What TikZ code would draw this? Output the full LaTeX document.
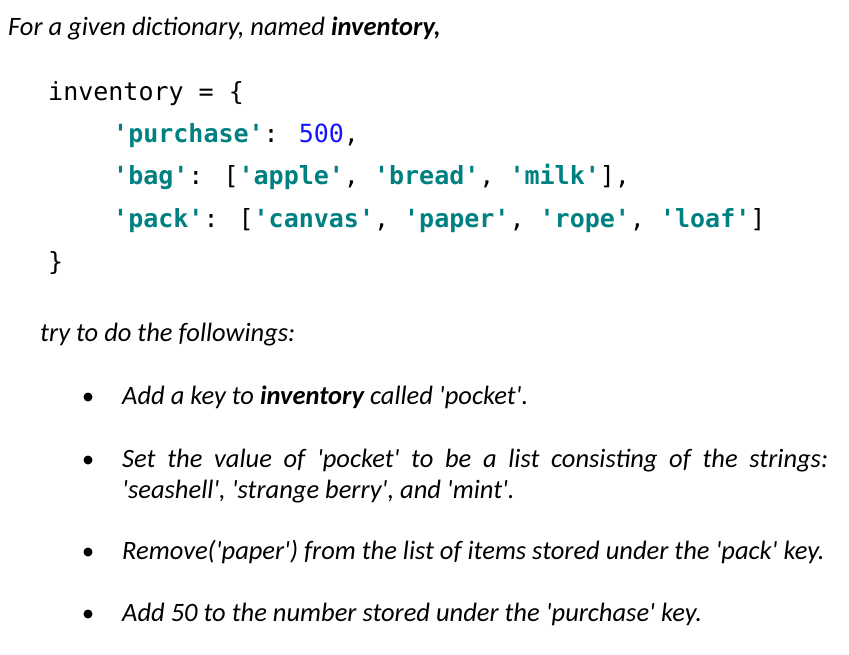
\documentclass[tikz,border=0pt]{standalone}
\usepackage{fontspec}
\setmainfont{Carlito}
\newfontfamily\codefont{DejaVu Sans Mono}
\newcommand{\q}{\textquotesingle}
\begin{document}
\begin{tikzpicture}[x=1pt,y=-1pt,
  txt/.style={anchor=base west,inner sep=0pt,font=\fontsize{26.5}{32}\selectfont\itshape},
  code/.style={anchor=base west,inner sep=0pt,font=\fontsize{25}{27}\codefont},
  bul/.style={circle,fill=black,inner sep=0pt,minimum size=9pt}]
\useasboundingbox (0,0) rectangle (849,655);
\definecolor{str}{RGB}{0,128,128}
\definecolor{num}{RGB}{20,20,255}
\node[txt] (t0) at (8,36) {For a given dictionary, named \textbf{inventory,}};
\node[code] (c0) at (48,101) {inventory = \{};
\node[code] (c1) at (113,143) {\textcolor{str}{\bfseries 'purchase'}: \textcolor{num}{500},};
\node[code] (c2) at (113,185) {\textcolor{str}{\bfseries 'bag'}: [\textcolor{str}{\bfseries 'apple'}, \textcolor{str}{\bfseries 'bread'}, \textcolor{str}{\bfseries 'milk'}],};
\node[code] (c3) at (113,228) {\textcolor{str}{\bfseries 'pack'}: [\textcolor{str}{\bfseries 'canvas'}, \textcolor{str}{\bfseries 'paper'}, \textcolor{str}{\bfseries 'rope'}, \textcolor{str}{\bfseries 'loaf'}]};
\node[code] (c4) at (48,270) {\}};
\node[txt] (t1) at (40,341) {try to do the followings:};
\node[bul] (b1) at (88,397) {};
\node[txt] (t2) at (122,404) {Add a key to \textbf{inventory} called \q pocket\q .};
\node[bul] (b2) at (88,460) {};
\node[txt] (t3) at (122,467) {\makebox[706pt][s]{Set the value of \q pocket\q{} to be a list consisting of the strings:}};
\node[txt] (t3b) at (122,498) {\q seashell\q , \q strange berry\q , and \q mint\q .};
\node[bul] (b3) at (88,552) {};
\node[txt] (t4) at (122,559) {Remove(\q paper\q ) from the list of items stored under the \q pack\q{} key.};
\node[bul] (b4) at (88,614) {};
\node[txt] (t5) at (122,621) {Add 50 to the number stored under the \q purchase\q{} key.};
\end{tikzpicture}
\end{document}
